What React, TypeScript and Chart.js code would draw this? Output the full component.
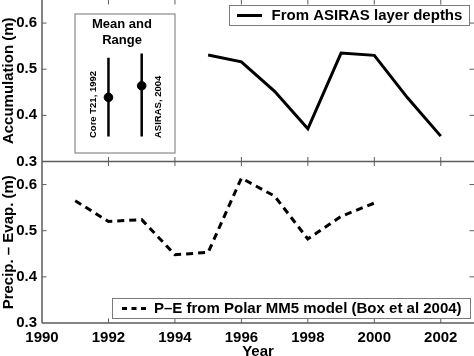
import React, { useEffect, useRef } from 'react';
import { Chart, registerables } from 'chart.js';

Chart.register(...registerables);

// ---- data ----
const asirasYears = [1995, 1996, 1997, 1998, 1999, 2000, 2001, 2002];
const asirasAccum = [0.531, 0.516, 0.452, 0.371, 0.535, 0.53, 0.438, 0.355];

const peYears = [1991, 1992, 1993, 1994, 1995, 1996, 1997, 1998, 1999, 2000];
const peValues = [0.565, 0.52, 0.524, 0.448, 0.453, 0.614, 0.575, 0.482, 0.531, 0.56];

const rangeLabels = ['Core T21, 1992', 'ASIRAS, 2004'];
const rangeX = [1992, 1993];
const rangeMean = [0.439, 0.464];
const rangeMin = [0.354, 0.354];
const rangeMax = [0.525, 0.534];

const xTickValues = [1990, 1992, 1994, 1996, 1998, 2000, 2002];
const yTickValues = [0.3, 0.4, 0.5, 0.6];

const legendTop = 'From ASIRAS layer depths';
const legendBottom = 'P\u2013E from Polar MM5 model (Box et al 2004)';
const insetTitle = ['Mean and', 'Range'];

const FONT = '"Liberation Sans", Arial, Helvetica, sans-serif';
const AXIS = '#5c5c5c';

const framePlugin = {
  id: 'frame',
  afterDatasetsDraw(chart: any) {
    const ctx = chart.ctx as CanvasRenderingContext2D;
    const x = chart.scales.x;
    const yt = chart.scales.yTop;
    const yb = chart.scales.yBot;
    const L = x.left, R = x.right;
    const TL = 4.5;
    ctx.save();
    ctx.strokeStyle = AXIS;
    ctx.lineWidth = 1.5;
    // frames
    ctx.beginPath();
    ctx.moveTo(L, yt.top); ctx.lineTo(L, yb.bottom);
    ctx.moveTo(L, yt.bottom); ctx.lineTo(R, yt.bottom);
    ctx.moveTo(L, yb.bottom); ctx.lineTo(R, yb.bottom);
    ctx.stroke();
    ctx.lineWidth = 1;
    ctx.beginPath();
    for (const v of xTickValues) {
      const px = x.getPixelForValue(v);
      if (px <= L + 1) continue;
      for (const s of [yt, yb]) {
        ctx.moveTo(px, s.top); ctx.lineTo(px, s.top + TL);
        ctx.moveTo(px, s.bottom); ctx.lineTo(px, s.bottom - TL);
      }
    }
    for (const s of [yt, yb]) {
      for (const v of yTickValues) {
        const py = s.getPixelForValue(v);
        if (py >= s.bottom - 1) continue;
        ctx.moveTo(L, py); ctx.lineTo(L + TL, py);
        ctx.moveTo(R, py); ctx.lineTo(R - TL, py);
      }
    }
    ctx.stroke();

    // inset box
    ctx.strokeStyle = '#8a8a8a';
    ctx.lineWidth = 1.2;
    ctx.strokeRect(75, 14, 100, 139);
    ctx.fillStyle = '#000';
    ctx.textAlign = 'center';
    ctx.textBaseline = 'middle';
    ctx.font = `bold 13px ${FONT}`;
    ctx.fillText(insetTitle[0], 122, 24.5);
    ctx.fillText(insetTitle[1], 122, 40.5);
    ctx.font = `bold 9.5px ${FONT}`;
    const labX = [x.getPixelForValue(rangeX[0]) - 15.5, x.getPixelForValue(rangeX[1]) + 16.5];
    rangeLabels.forEach((t, i) => {
      ctx.save();
      ctx.translate(labX[i], 138);
      ctx.rotate(-Math.PI / 2);
      ctx.textAlign = 'left';
      ctx.fillText(t, 0, 0);
      ctx.restore();
    });

    // top legend
    ctx.fillStyle = '#fff';
    ctx.fillRect(229, 5, 240, 20);
    ctx.strokeStyle = '#7a7a7a';
    ctx.lineWidth = 1;
    ctx.strokeRect(229.5, 5.5, 240, 20);
    ctx.strokeStyle = '#000';
    ctx.lineWidth = 3;
    ctx.beginPath(); ctx.moveTo(237, 15.5); ctx.lineTo(262, 15.5); ctx.stroke();
    ctx.fillStyle = '#000';
    ctx.textAlign = 'left';
    ctx.font = `bold 15px ${FONT}`;
    ctx.fillText(legendTop, 271.5, 16);

    // bottom legend
    ctx.fillStyle = '#fff';
    ctx.fillRect(112, 298, 358, 20);
    ctx.strokeStyle = '#7a7a7a';
    ctx.lineWidth = 1;
    ctx.strokeRect(112.5, 298.5, 358, 20);
    ctx.strokeStyle = '#000';
    ctx.lineWidth = 3;
    ctx.setLineDash([5, 4.5]);
    ctx.beginPath(); ctx.moveTo(122, 308.5); ctx.lineTo(147, 308.5); ctx.stroke();
    ctx.setLineDash([]);
    ctx.fillStyle = '#000';
    ctx.fillText(legendBottom, 154, 309);
    ctx.restore();
  },
};

const tickFont = { family: FONT, size: 15, weight: 'bold' as const };

export default function App() {
  const ref = useRef<HTMLCanvasElement | null>(null);
  useEffect(() => {
    if (!ref.current) return;
    const yScale = (title: string) => ({
      type: 'linear' as const,
      position: 'left' as const,
      stack: 'v',
      stackWeight: 1,
      min: 0.3,
      max: 0.65,
      afterBuildTicks: (s: any) => { s.ticks = yTickValues.map((v) => ({ value: v })); },
      afterFit: (s: any) => { s.width = 42; s.paddingTop = 0; s.paddingBottom = 0; },
      grid: { display: false, drawTicks: false },
      border: { display: false },
      ticks: {
        padding: 5,
        color: '#000',
        font: tickFont,
        callback: (v: any) => Number(v).toFixed(1),
      },
      title: {
        display: true,
        text: title,
        color: '#000',
        padding: { top: 0, bottom: 0 },
        font: { family: FONT, size: 15, weight: 'bold' as const, lineHeight: 1.2 },
      },
    });
    const chart = new Chart(ref.current, {
      type: 'line',
      data: {
        datasets: [
          {
            label: legendTop,
            data: asirasYears.map((x, i) => ({ x, y: asirasAccum[i] })),
            yAxisID: 'yTop',
            borderColor: '#000',
            borderWidth: 3,
            pointRadius: 0,
            tension: 0,
          },
          ...rangeX.map((rx, i) => ({
            label: rangeLabels[i] + ' range',
            data: [{ x: rx, y: rangeMin[i] }, { x: rx, y: rangeMax[i] }],
            yAxisID: 'yTop',
            borderColor: '#000',
            borderWidth: 2.5,
            pointRadius: 0,
          })),
          {
            label: 'Mean',
            data: rangeX.map((rx, i) => ({ x: rx, y: rangeMean[i] })),
            yAxisID: 'yTop',
            showLine: false,
            pointRadius: 4.3,
            pointBackgroundColor: '#000',
            pointBorderColor: '#000',
            borderColor: '#000',
          },
          {
            label: legendBottom,
            data: peYears.map((x, i) => ({ x, y: peValues[i] })),
            yAxisID: 'yBot',
            borderColor: '#000',
            borderWidth: 3,
            borderDash: [7, 5],
            pointRadius: 0,
            tension: 0,
          },
        ],
      },
      options: {
        animation: false,
        responsive: false,
        layout: { padding: 0, autoPadding: false },
        plugins: { legend: { display: false }, tooltip: { enabled: false } },
        scales: {
          yBot: yScale('Precip. \u2013 Evap. (m)'),
          yTop: yScale('Accumulation (m)'),
          x: {
            type: 'linear',
            position: 'bottom',
            min: 1990,
            max: 2003,
            afterBuildTicks: (s: any) => { s.ticks = xTickValues.map((v) => ({ value: v })); },
            afterFit: (s: any) => { s.height = 33; s.paddingLeft = 0; s.paddingRight = 0; },
            grid: { display: false, drawTicks: false },
            border: { display: false },
            ticks: {
              padding: 6,
              color: '#000',
              maxRotation: 0,
              autoSkip: false,
              font: tickFont,
              callback: (v: any) => String(v),
            },
            title: {
              display: true,
              text: 'Year',
              color: '#000',
              padding: { top: 0, bottom: 0 },
              font: { family: FONT, size: 15, weight: 'bold', lineHeight: 0.6 },
            },
          },
        },
      } as any,
      plugins: [framePlugin],
    });
    return () => chart.destroy();
  }, []);
  return (
    <div style={{ position: 'absolute', left: 0, top: 0, width: 474, height: 356, background: '#fff' }}>
      <canvas ref={ref} width={474} height={356} />
    </div>
  );
}
